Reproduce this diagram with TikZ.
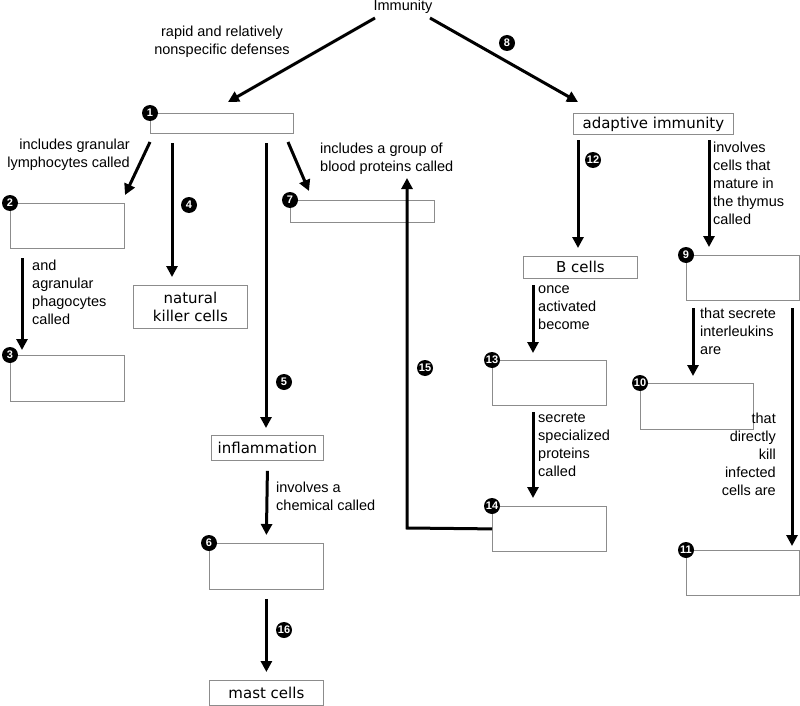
\documentclass[tikz,border=0pt]{standalone}
\usepackage{fontspec}
\setmainfont{Liberation Sans}
\newfontfamily\boxfont{DejaVu Sans}
\usetikzlibrary{arrows.meta}

\begin{document}
\begin{tikzpicture}[x=1pt,y=-1pt,
    box/.style={draw=black!45,line width=0.8pt,anchor=north west,inner sep=0pt,
      font=\boxfont\fontsize{15}{18}\selectfont,align=center},
    badge/.style={circle,fill=black,text=white,inner sep=0pt,minimum size=16pt,
      font=\bfseries\fontsize{11}{11}\selectfont},
    note/.style={font=\fontsize{14.5}{18}\selectfont,align=left,inner sep=0pt},
    arr/.style={line width=3pt,-{Triangle[length=11pt,width=11pt]}}]
  \useasboundingbox (0,0) rectangle (800,706);
  % top
  \node[note,anchor=north] (immunity) at (403,0) {Immunity};
  \node[note,align=center] (rapid) at (222,42) {rapid and relatively\\nonspecific defenses};
  % boxes
  \node[box,minimum width=143pt,minimum height=20pt] (b1) at (150,113) {};
  \node[box,minimum width=160pt,minimum height=21pt] (adapt) at (573,113) {adaptive immunity};
  \node[box,minimum width=114pt,minimum height=45pt] (b2) at (10,203) {};
  \node[box,minimum width=114pt,minimum height=46pt] (b3) at (10,355) {};
  \node[box,minimum width=114pt,minimum height=43pt] (nk) at (133,285) {natural\\killer cells};
  \node[box,minimum width=144pt,minimum height=22pt] (b7) at (290,200) {};
  \node[box,minimum width=112pt,minimum height=25pt] (infl) at (211,435) {inflammation};
  \node[box,minimum width=114pt,minimum height=46pt] (b6) at (209,543) {};
  \node[box,minimum width=114pt,minimum height=25pt] (mast) at (209,680) {mast cells};
  \node[box,minimum width=114pt,minimum height=22pt] (bcell) at (523,256) {B cells};
  \node[box,minimum width=114pt,minimum height=45pt] (b13) at (492,360) {};
  \node[box,minimum width=114pt,minimum height=45pt] (b14) at (492,506) {};
  \node[box,minimum width=113pt,minimum height=45pt] (b9) at (686,255) {};
  \node[box,minimum width=113pt,minimum height=46pt] (b10) at (640,383) {};
  \node[box,minimum width=113pt,minimum height=45pt] (b11) at (686,550) {};
  % badges
  \node[badge] (n1) at (b1.north west) {1};
  \node[badge] (n2) at (b2.north west) {2};
  \node[badge] (n3) at (b3.north west) {3};
  \node[badge] (n4) at (189,205) {4};
  \node[badge] (n5) at (284,382) {5};
  \node[badge] (n6) at (b6.north west) {6};
  \node[badge] (n7) at (b7.north west) {7};
  \node[badge] (n8) at (507,43) {8};
  \node[badge] (n9) at (b9.north west) {9};
  \node[badge] (n10) at (b10.north west) {10};
  \node[badge] (n11) at (b11.north west) {11};
  \node[badge] (n12) at (593,160) {12};
  \node[badge] (n13) at (b13.north west) {13};
  \node[badge] (n14) at (b14.north west) {14};
  \node[badge] (n15) at (425,368) {15};
  \node[badge] (n16) at (284,630) {16};
  % notes
  \node[note,align=right,anchor=north east] (t2) at (130,139) {includes granular\\lymphocytes called};
  \node[note,anchor=north west] (t3) at (32,260) {and\\agranular\\phagocytes\\called};
  \node[note,anchor=north west] (t7) at (320,143) {includes a group of\\blood proteins called};
  \node[note,anchor=north west] (t6) at (276,482) {involves a\\chemical called};
  \node[note,anchor=north west] (t13) at (538,285) {once\\activated\\become};
  \node[note,anchor=north west] (t14) at (538,413) {secrete\\specialized\\proteins\\called};
  \node[note,anchor=north west] (t9) at (713,142) {involves\\cells that\\mature in\\the thymus\\called};
  \node[note,anchor=north west] (t10) at (700,308) {that secrete\\interleukins\\are};
  \node[note,align=right,anchor=north east] (t11) at (776,413) {that\\directly\\kill\\infected\\cells are};
  % arrows
  \draw[arr] (375,18) -- (228,102);
  \draw[arr] (430,18) -- (578,102);
  \draw[arr] (150,142) -- (125,195);
  \draw[arr] (172,143) -- ([yshift=8pt]nk.north -| 172,0);
  \draw[arr] (266,143) -- ([yshift=7pt]infl.north -| 266,0);
  \draw[arr] (288,142) -- (309,191);
  \draw[arr] (22,258) -- ([yshift=5pt]b3.north -| 22,0);
  \draw[arr] ([yshift=-10pt]infl.south) -- ([yshift=8pt]b6.north);
  \draw[arr] ([yshift=-9pt]b6.south) -- ([yshift=8pt]mast.north);
  \draw[arr] (b14.west) -- (407,528) -- (407,178);
  \draw[arr] (578,140) -- ([yshift=8pt]bcell.north -| 578,0);
  \draw[arr] (533,285) -- ([yshift=7pt]b13.north -| 533,0);
  \draw[arr] (533,412) -- ([yshift=8pt]b14.north -| 533,0);
  \draw[arr] (709,140) -- ([yshift=8pt]b9.north -| 709,0);
  \draw[arr] (693,308) -- ([yshift=7pt]b10.north -| 693,0);
  \draw[arr] (792,308) -- (792,546);
\end{tikzpicture}
\end{document}
